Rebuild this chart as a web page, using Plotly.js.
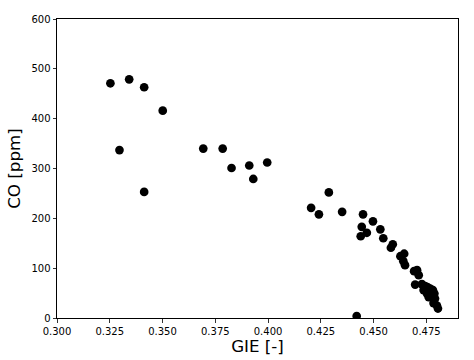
<!DOCTYPE html>
<html>
<head>
<meta charset="utf-8">
<script src="https://cdn.plot.ly/plotly-3.0.1.min.js"></script>
<style>html,body{margin:0;padding:0;background:#fff;}#chart{width:474px;height:360px;}</style>
</head>
<body>
<div id="chart"></div>
<script>
const gie = [
  0.3253, 0.3342, 0.3413, 0.3501, 0.3296, 0.3413,
  0.3693, 0.3785, 0.3827, 0.3911, 0.3930, 0.3996,
  0.4204, 0.4241, 0.4288, 0.4351,
  0.4450, 0.4497, 0.4444, 0.4468, 0.4439, 0.4532, 0.4546,
  0.4591, 0.4582, 0.4645, 0.4627, 0.4641, 0.4649,
  0.4692, 0.4706, 0.4714, 0.4697, 0.4729, 0.4744, 0.4755, 0.4768, 0.4781,
  0.4737, 0.4753, 0.4768, 0.4777, 0.4761, 0.4788, 0.4791, 0.4784, 0.4800, 0.4805,
  0.4420
];
const co = [
  471, 479, 463, 416, 337, 253,
  340, 340, 301, 306, 279, 312,
  221, 208, 252, 213,
  208, 194, 183, 171, 164, 178, 160,
  148, 141, 129, 124, 114, 106,
  94, 96, 86, 67, 68, 64, 62, 59, 56,
  56, 49, 44, 52, 42, 49, 39, 30, 25, 19,
  4
];
const xTicks = [0.300, 0.325, 0.350, 0.375, 0.400, 0.425, 0.450, 0.475];
const yTicks = [0, 100, 200, 300, 400, 500, 600];

const font = 'DejaVu Sans, sans-serif';
Plotly.newPlot('chart', [{
  x: gie, y: co, type: 'scatter', mode: 'markers',
  marker: {color: '#000000', size: 8.7},
  hoverinfo: 'skip'
}], {
  width: 474, height: 360,
  margin: {l: 57, r: 16, t: 19, b: 42},
  paper_bgcolor: '#ffffff', plot_bgcolor: '#ffffff',
  showlegend: false,
  font: {family: font, color: '#000000', size: 10},
  xaxis: {
    range: [0.300, 0.490], tickvals: xTicks,
    ticktext: xTicks.map(v => v.toFixed(3)),
    ticks: 'outside', ticklen: 3.5, tickwidth: 0.8, tickcolor: '#000',
    showline: true, mirror: true, linecolor: '#000', linewidth: 1,
    showgrid: false, zeroline: false,
    tickfont: {size: 10, family: font},
    title: {text: 'GIE [-]', font: {size: 16.7, family: font}, standoff: 1}
  },
  yaxis: {
    range: [0, 600], tickvals: yTicks,
    ticks: 'outside', ticklen: 3.5, tickwidth: 0.8, tickcolor: '#000',
    showline: true, mirror: true, linecolor: '#000', linewidth: 1,
    showgrid: false, zeroline: false,
    tickfont: {size: 10, family: font},
    title: {text: 'CO [ppm]', font: {size: 16.7, family: font}, standoff: 6}
  }
}, {staticPlot: true});
</script>
</body>
</html>
